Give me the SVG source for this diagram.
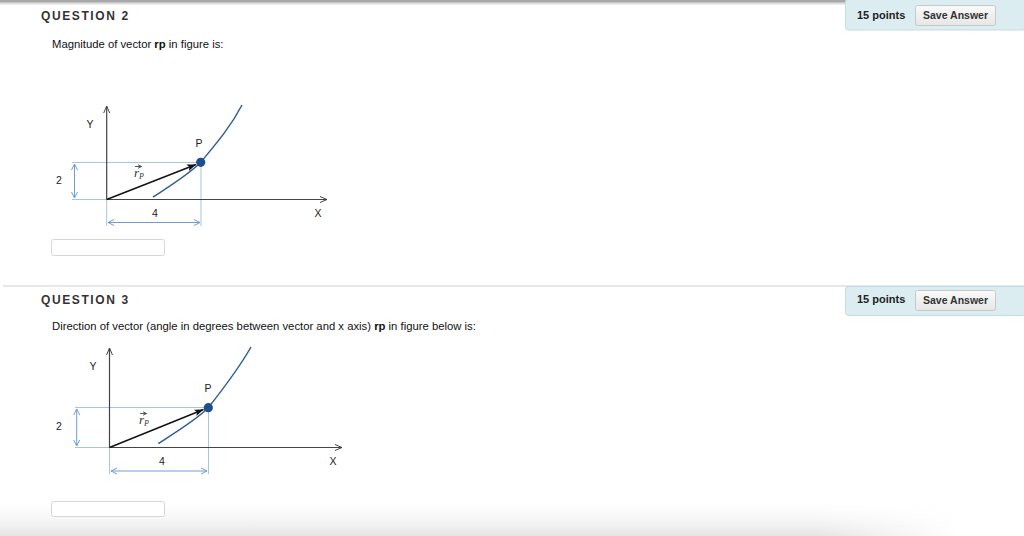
<svg xmlns="http://www.w3.org/2000/svg" width="1024" height="536" viewBox="0 0 1024 536">
<style>
.hdr{font-family:"Liberation Sans",Arial,sans-serif;font-weight:bold;font-size:12px;letter-spacing:1.6px;fill:#333}
.q{font-family:"Liberation Sans",Arial,sans-serif;font-size:11.3px;fill:#111}
.pts{font-family:"Liberation Sans",Arial,sans-serif;font-weight:bold;font-size:11px;fill:#222}
.btn{font-family:"Liberation Sans",Arial,sans-serif;font-weight:bold;font-size:10.5px;fill:#333}
.lbl{font-family:"Liberation Sans",Arial,sans-serif;font-size:10.5px;fill:#222}
.rp{font-family:"Liberation Serif","Times New Roman",serif;font-style:italic;fill:#333}
.axis{stroke:#444;stroke-width:1.2;fill:none}
.vec{stroke:#111;stroke-width:1.4;fill:none}
.curve{stroke:#2f5f95;stroke-width:1.5;fill:none}
.guide{stroke:#a9c4de;stroke-width:1;fill:none}
.dim{stroke:#6f9fcf;stroke-width:1;fill:none}
.box{fill:#fff;stroke:#d6d6d6;stroke-width:1}
.panel{fill:#dcedf2;stroke:#c4dbe3;stroke-width:1}
.button{fill:url(#btng);stroke:#c8c8c8;stroke-width:1}
</style>
<defs>
<linearGradient id="btng" x1="0" y1="0" x2="0" y2="1"><stop offset="0" stop-color="#fafafa"/><stop offset="1" stop-color="#e6e6e6"/></linearGradient>
<linearGradient id="topsh" x1="0" y1="0" x2="0" y2="1"><stop offset="0" stop-color="#9a9a9a"/><stop offset="1" stop-color="#9a9a9a" stop-opacity="0"/></linearGradient>
<linearGradient id="botg" x1="0" y1="0" x2="0" y2="1"><stop offset="0" stop-color="#ffffff" stop-opacity="0"/><stop offset="1" stop-color="#e4e4e4"/></linearGradient>
<linearGradient id="fadeR" x1="0" y1="0" x2="1" y2="0"><stop offset="0.85" stop-color="#fff"/><stop offset="1" stop-color="#000"/></linearGradient>
<mask id="mR"><rect x="0" y="480" width="960" height="56" fill="url(#fadeR)"/></mask>
<marker id="ah" markerWidth="8" markerHeight="8" refX="7" refY="4" orient="auto" markerUnits="userSpaceOnUse"><path d="M0,1 L7,4 L0,7" fill="none" stroke="#444" stroke-width="1"/></marker>
<marker id="av" markerWidth="10" markerHeight="10" refX="9" refY="5" orient="auto" markerUnits="userSpaceOnUse"><path d="M0,1.5 L9,5 L0,8.5 L2,5 Z" fill="#111"/></marker>
<marker id="ad" markerWidth="8" markerHeight="8" refX="6" refY="4" orient="auto-start-reverse" markerUnits="userSpaceOnUse"><path d="M0,1 L6,4 L0,7" fill="none" stroke="#6f9fcf" stroke-width="1"/></marker>
<marker id="aa" markerWidth="5" markerHeight="5" refX="4" refY="2.5" orient="auto" markerUnits="userSpaceOnUse"><path d="M0,0.5 L4,2.5 L0,4.5" fill="none" stroke="#333" stroke-width="0.8"/></marker>
</defs>
<rect width="1024" height="536" fill="#fff"/>
<!-- top shadow bar -->
<rect x="0" y="0" width="1012" height="2.5" fill="#a8a8a8"/>
<rect x="0" y="2.5" width="1012" height="3" fill="url(#topsh)" opacity="0.5"/>
<!-- bottom shading -->
<rect x="0" y="496" width="960" height="40" fill="url(#botg)" mask="url(#mR)"/>

<!-- Question 2 -->
<g id="q2-header">
<rect class="panel" x="845.5" y="-1" width="180" height="31" rx="3"/>
<text class="hdr" x="41" y="20">QUESTION 2</text>
<text class="pts" x="857" y="19">15 points</text>
<rect class="button" x="915.5" y="5.5" width="80" height="20" rx="2"/>
<text class="btn" x="955.5" y="19" text-anchor="middle">Save Answer</text>
</g>
<g id="q2-text">
<text class="q" x="52" y="48">Magnitude of vector <tspan font-weight="bold">rp</tspan> in figure is:</text>
</g>
<g id="q2-figure">
<line class="guide" x1="72" y1="162.5" x2="201" y2="162.5"/>
<line class="guide" x1="72" y1="199.5" x2="107" y2="199.5"/>
<line class="guide" x1="201" y1="162.5" x2="201" y2="226"/>
<line class="guide" x1="106.7" y1="199.5" x2="106.7" y2="226"/>
<line class="dim" x1="74.5" y1="164" x2="74.5" y2="198" marker-start="url(#ad)" marker-end="url(#ad)"/>
<line class="dim" x1="108" y1="222.5" x2="200" y2="222.5" marker-start="url(#ad)" marker-end="url(#ad)"/>
<line class="axis" x1="106.7" y1="199.5" x2="106.7" y2="106" marker-end="url(#ah)"/>
<line class="axis" x1="106.7" y1="199.5" x2="327" y2="199.5" marker-end="url(#ah)"/>
<path class="curve" d="M153,197 C170,186 188,175 200.5,162.5 C215,145 230,128 242,105"/>
<line class="vec" x1="106.7" y1="199.5" x2="196" y2="164.5" marker-end="url(#av)"/>
<circle cx="200.7" cy="162.3" r="4.6" fill="#1f4e8c"/>
<text class="lbl" x="90" y="128" text-anchor="middle">Y</text>
<text class="lbl" x="318" y="217" text-anchor="middle">X</text>
<text class="lbl" x="199" y="147" text-anchor="middle">P</text>
<text class="lbl" x="59" y="184" text-anchor="middle">2</text>
<text class="lbl" x="155" y="217" text-anchor="middle">4</text>
<text class="rp" x="134" y="177" font-size="13">r<tspan font-size="8" dy="2">P</tspan></text>
<line x1="135" y1="166.5" x2="141.5" y2="166.5" stroke="#333" stroke-width="0.8" marker-end="url(#aa)"/>
</g>
<g id="q2-answer">
<rect class="box" x="51.5" y="239.5" width="113" height="16" rx="2"/>
</g>

<!-- separator -->
<line x1="3" y1="286" x2="1024" y2="286" stroke="#cfcfcf" stroke-width="1"/>

<!-- Question 3 -->
<g id="q3-header">
<rect class="panel" x="845.5" y="286.5" width="180" height="29" rx="3"/>
<text class="hdr" x="41" y="304">QUESTION 3</text>
<text class="pts" x="857" y="303">15 points</text>
<rect class="button" x="915.5" y="290.5" width="80" height="20" rx="2"/>
<text class="btn" x="955.5" y="304" text-anchor="middle">Save Answer</text>
</g>
<g id="q3-text">
<text class="q" x="52" y="330">Direction of vector (angle in degrees between vector and x axis) <tspan font-weight="bold">rp</tspan> in figure below is:</text>
</g>
<g id="q3-figure">
<line class="guide" x1="75" y1="407.5" x2="208.5" y2="407.5"/>
<line class="guide" x1="75" y1="447.5" x2="110" y2="447.5"/>
<line class="guide" x1="208.5" y1="407.5" x2="208.5" y2="474"/>
<line class="guide" x1="109.5" y1="447.5" x2="109.5" y2="474"/>
<line class="dim" x1="76.7" y1="409" x2="76.7" y2="446" marker-start="url(#ad)" marker-end="url(#ad)"/>
<line class="dim" x1="111" y1="471" x2="207" y2="471" marker-start="url(#ad)" marker-end="url(#ad)"/>
<line class="axis" x1="109.5" y1="447.5" x2="109.5" y2="348" marker-end="url(#ah)"/>
<line class="axis" x1="109.5" y1="447.5" x2="342" y2="447.5" marker-end="url(#ah)"/>
<path class="curve" d="M158.3,443.5 C176,432 196,420 208.3,407.7 C223,389 238,370 251,347"/>
<line class="vec" x1="109.5" y1="447.5" x2="203.5" y2="409.5" marker-end="url(#av)"/>
<circle cx="208.3" cy="407.7" r="4.6" fill="#1f4e8c"/>
<text class="lbl" x="93" y="370" text-anchor="middle">Y</text>
<text class="lbl" x="333" y="465" text-anchor="middle">X</text>
<text class="lbl" x="208" y="392" text-anchor="middle">P</text>
<text class="lbl" x="59" y="430" text-anchor="middle">2</text>
<text class="lbl" x="162" y="465" text-anchor="middle">4</text>
<text class="rp" x="139" y="424" font-size="13">r<tspan font-size="8" dy="2">P</tspan></text>
<line x1="140" y1="413.5" x2="146.5" y2="413.5" stroke="#333" stroke-width="0.8" marker-end="url(#aa)"/>
</g>
<g id="q3-answer">
<rect class="box" x="51.5" y="501.5" width="113" height="15" rx="2"/>
</g>
</svg>
